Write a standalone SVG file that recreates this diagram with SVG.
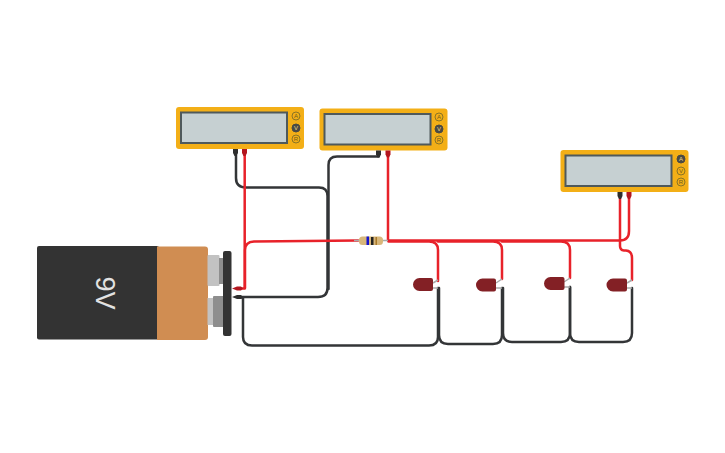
<svg xmlns="http://www.w3.org/2000/svg" width="725" height="453" viewBox="0 0 725 453">
<defs>
<style>
.case{fill:#f3af17}
.screen{fill:#c6d0d2;stroke:#4f595b;stroke-width:2}
.btn{fill:none;stroke:#8a7426;stroke-width:1}
.on{fill:#4a4a44;stroke:#4a4a44;stroke-width:1}
.bt{font:6px "Liberation Sans",Arial,sans-serif;text-anchor:middle;fill:#6e5c1c}
.bt2{fill:#f3d98a}
.w{fill:none;stroke-width:2.500;stroke-linecap:round;stroke-linejoin:round}
.r{stroke:#e8222a}
.k{stroke:#333537}
.lead{fill:none;stroke:#a9a9a9;stroke-width:1.500}
.led{fill:#832025}
.tb{fill:#2e2e2e}
.tr{fill:#b3161f}
</style>
<g id="m"><rect class="case" x="0" y="0" width="128" height="42" rx="3"/><rect class="screen" x="5" y="5.500" width="106" height="30.500"/></g>
</defs>
<rect width="725" height="453" fill="#fff"/>
<g id="battery">
<rect x="37" y="246" width="122" height="93.500" rx="2" fill="#333333"/>
<path d="M157 246.500H205a3 3 0 0 1 3 3V337a3 3 0 0 1-3 3H157z" fill="#d08d52"/>
<rect x="207.500" y="255" width="12" height="31" rx="1" fill="#c2c2c2"/>
<rect x="219" y="258" width="5" height="26" fill="#8e8e8e"/>
<rect x="207.500" y="298" width="6" height="27" fill="#c2c2c2"/>
<rect x="213" y="296" width="11" height="31" rx="1" fill="#8e8e8e"/>
<rect x="223" y="251" width="8.500" height="85" rx="2" fill="#333333"/>
<text x="96" y="293" transform="rotate(90 96 293)" text-anchor="middle" font-family="'Liberation Sans',Arial,sans-serif" font-size="27" fill="#e2e2e2">9V</text>
</g>
<g id="connectors">
<path class="w k" d="M236 155V178Q236 187.500 246 187.500H319Q327.500 187.500 327.500 196V288Q327.500 297 318 297H238"/>
<path class="w k" d="M378.500 155V156.500H337Q328.500 156.500 328.500 165V289"/>
<path class="w k" d="M238 297.500H243V337Q243 345.500 252 345.500H429Q438 345.500 438 337V288"/>
<path class="w k" d="M439 288V335Q439 344 448 344H493Q502 344 502 335V288"/>
<path class="w k" d="M503 288V333Q503 342 512 342H561Q570 342 570 333V287"/>
<path class="w k" d="M570 287V333Q570 342 579 342H623Q632 342 632 333V288"/>
<path class="w r" d="M244.700 155V288.500H238"/>
<path class="w r" d="M245 288V250Q245 242 254 241.500L358 240.500"/>
<path class="w r" d="M388 155V240.500H620Q629 240.500 629 231V195"/>
<path class="w r" d="M388.500 241.500H429Q438 241.500 438 250V281"/>
<path class="w r" d="M438 241.500H493Q502 241.500 502 250V279"/>
<path class="w r" d="M502 241.500H561Q570 241.500 570 250V278"/>
<path class="w r" d="M620 195V246Q620 250 624 250.500H626Q632 251 632 258V280"/>
<path class="lead" d="M433 283L438 280M433 288H438M496 283L502 279M496 288H502M564 282L570 278M564 287H570M627 283L632 280M627 288H632"/>
<path class="tr" d="M232 288.500L237 286.500H241L243 288.500L241 290.500H237z"/>
<path class="tb" d="M232 297L237 295H241L243 297L241 299H237z"/>
</g>
<g id="resistor">
<path d="M354 240.500H388" stroke="#a9a9a9" stroke-width="1.500" fill="none"/>
<rect x="359" y="236.500" width="24" height="8.500" rx="3.500" fill="#d8b77a"/>
<rect x="366.500" y="236.500" width="2.500" height="8.500" fill="#1414d0"/>
<rect x="371" y="237" width="2.500" height="8" fill="#222"/>
<rect x="375.500" y="237" width="1.500" height="8" fill="#a8792a"/>
</g>
<g id="led1"><path class="led" d="M431 278H419.500a6.500 6.500 0 0 0 0 13H431a2 2 0 0 0 2-2V280a2 2 0 0 0-2-2z"/></g>
<g id="led2"><path class="led" d="M494 278.500H482.500a6.500 6.500 0 0 0 0 13H494a2 2 0 0 0 2-2V280.500a2 2 0 0 0-2-2z"/></g>
<g id="led3"><path class="led" d="M562.500 277H550.500a6.500 6.500 0 0 0 0 13H562.500a2 2 0 0 0 2-2V279a2 2 0 0 0-2-2z"/></g>
<g id="led4"><path class="led" d="M625 278.500H613a6.500 6.500 0 0 0 0 13H625a2 2 0 0 0 2-2V280.500a2 2 0 0 0-2-2z"/></g>
<g id="meter1">
<use href="#m" x="176" y="107"/>
<circle class="btn" cx="296" cy="116" r="4"/><circle class="on" cx="296" cy="128" r="4"/><circle class="btn" cx="296" cy="139" r="4"/>
<text class="bt" x="296" y="118">A</text><text class="bt bt2" x="296" y="130">V</text><text class="bt" x="296" y="141">R</text>
<path class="tb" d="M233 149H238V153L236.500 156H234.500L233 153z"/><path class="tr" d="M242 149H247V153L245.500 156H243.500L242 153z"/>
</g>
<g id="meter2">
<use href="#m" x="319.500" y="108.500"/>
<circle class="btn" cx="439" cy="117" r="4"/><circle class="on" cx="439" cy="129" r="4"/><circle class="btn" cx="439" cy="140" r="4"/>
<text class="bt" x="439" y="119">A</text><text class="bt bt2" x="439" y="131">V</text><text class="bt" x="439" y="142">R</text>
<path class="tb" d="M376 150.500H381V154.500L379.500 157.500H377.500L376 154.500z"/><path class="tr" d="M385.500 150.500H390.500V154.500L389 157.500H387L385.500 154.500z"/>
</g>
<g id="meter3">
<use href="#m" x="560.500" y="150"/>
<circle class="on" cx="681" cy="159" r="4"/><circle class="btn" cx="681" cy="171" r="4"/><circle class="btn" cx="681" cy="182" r="4"/>
<text class="bt bt2" x="681" y="161">A</text><text class="bt" x="681" y="173">V</text><text class="bt" x="681" y="184">R</text>
<path class="tb" d="M617.500 192H622.500V196L621 199H619L617.500 196z"/><path class="tr" d="M626.500 192H631.500V196L630 199H628L626.500 196z"/>
</g>
</svg>
